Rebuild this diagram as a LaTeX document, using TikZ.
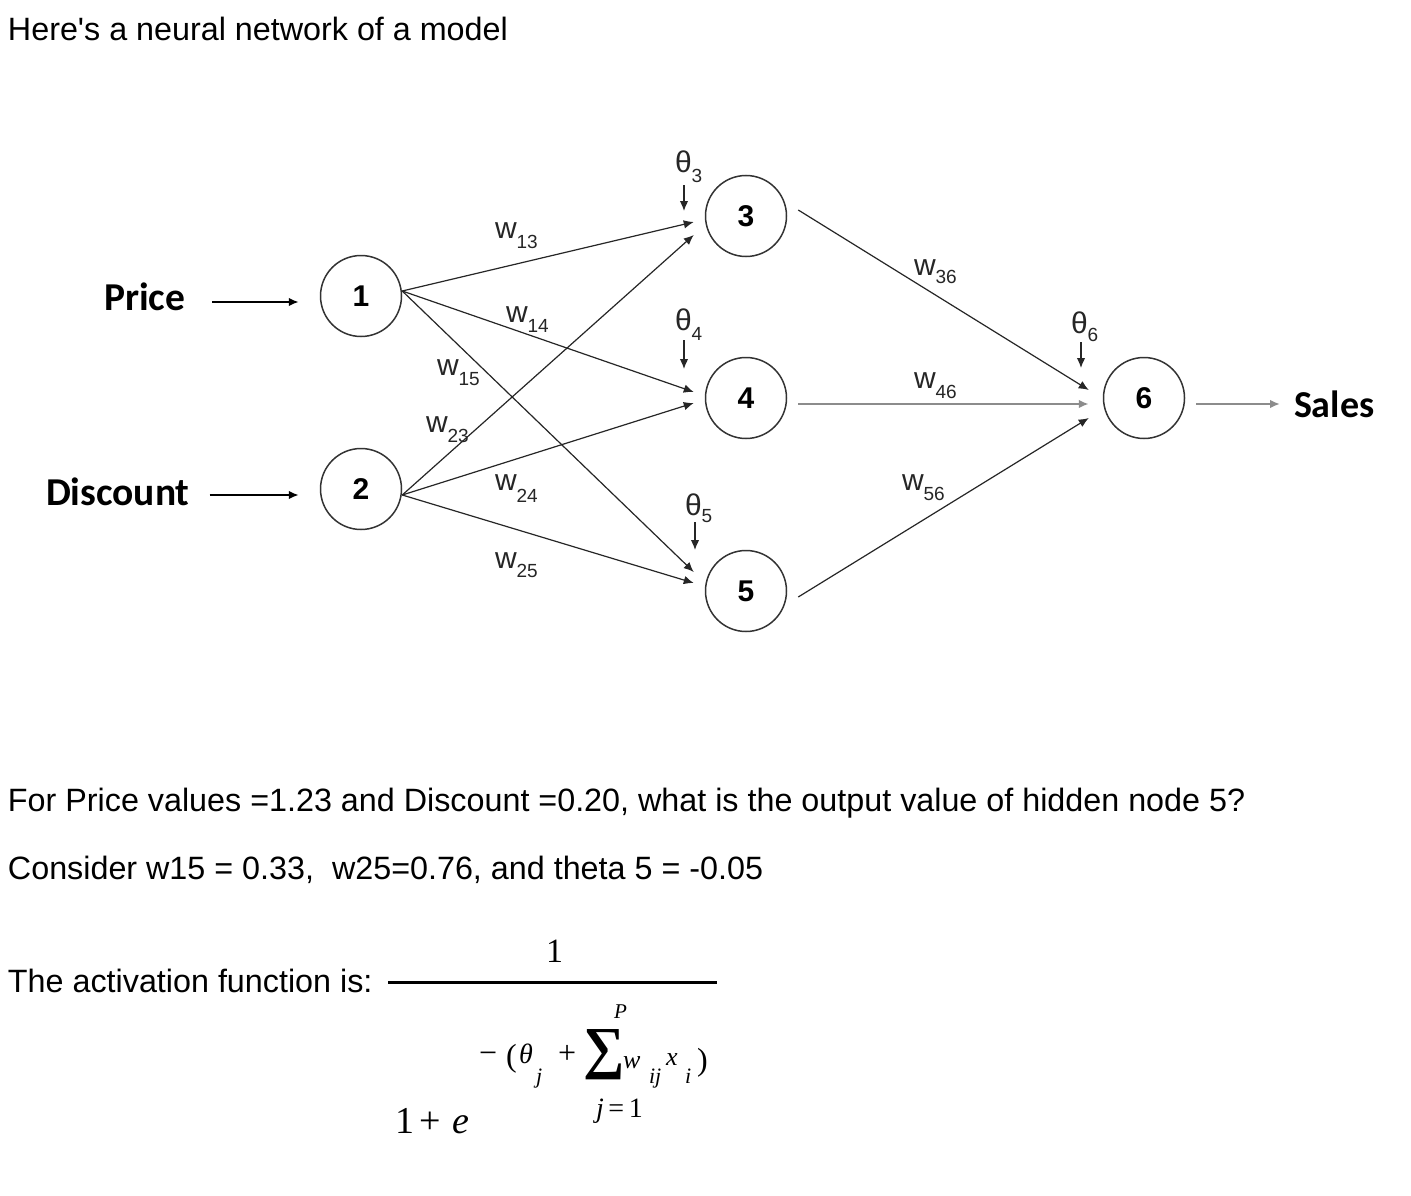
\documentclass[tikz,border=0pt]{standalone}
\usepackage{fontspec}
\setmainfont{Liberation Sans}[Ligatures=TeXOff]
\newfontfamily\calib{Carlito}
\newfontfamily\tms{Liberation Serif}
\usetikzlibrary{arrows.meta}
\newcommand\wsub[2][10pt]{w\raisebox{-#1}{\fontsize{19}{19}\selectfont #2}}
\newcommand\thsub[2][10pt]{θ\raisebox{-#1}{\fontsize{19}{19}\selectfont #2}}
\begin{document}
\begin{tikzpicture}[x=1pt,y=-1pt,
 txt/.style={anchor=base west, inner sep=0pt, outer sep=0pt, font=\fontsize{32.3}{38}\selectfont},
 lab/.style={anchor=base west, inner sep=0pt, outer sep=0pt, font=\calib\bfseries\fontsize{39.5}{44}\selectfont},
 neuron/.style={circle, draw=black!80, line width=1.5pt, minimum size=81pt, inner sep=0pt, font=\bfseries\fontsize{30}{30}\selectfont},
 conn/.style={draw=black!85, line width=1.2pt, -{Latex[length=10pt,width=8.5pt]}},
 grayconn/.style={draw=black!45, line width=2.2pt, -{Latex[length=10pt,width=8.5pt]}},
 inarr/.style={draw=black, line width=1.8pt, -{Latex[length=10pt,width=8.5pt]}},
 wlab/.style={anchor=base west, inner sep=0pt, outer sep=0pt, font=\fontsize{30}{30}\selectfont, text=black!85},
 fm/.style={anchor=base west, inner sep=0pt, outer sep=0pt, font=\tms\fontsize{32}{32}\selectfont},
 fs/.style={anchor=base west, inner sep=0pt, outer sep=0pt, font=\tms\itshape\fontsize{22}{22}\selectfont},
 fb/.style={anchor=base west, inner sep=0pt, outer sep=0pt, font=\tms\fontsize{38}{38}\selectfont}
]
\useasboundingbox (0,0) rectangle (1411,1196);
\fill[white] (0,0) rectangle (1411,1196);

% texts
\node[txt] (title) at (8,41) {Here's a neural network of a model};
\node[txt] (q1) at (8,811) {For Price values =1.23 and Discount =0.20, what is the output value of hidden node 5?};
\node[txt] (q2) at (8,879) {Consider w15 = 0.33, \ w25=0.76, and theta 5 = -0.05};
\node[txt] (q3) at (8,992) {The activation function is:};

% labels
\node[lab] (price) at (104,310) {Price};
\node[lab] (disc) at (46,505) {Discount};
\node[lab, font=\calib\bfseries\fontsize{38}{44}\selectfont] (sales) at (1294,417) {Sales};

% neurons
\node[neuron] (n1) at (361,296) {1};
\node[neuron] (n2) at (361,489) {2};
\node[neuron] (n3) at (746,216) {3};
\node[neuron] (n4) at (746,398) {4};
\node[neuron] (n5) at (746,591) {5};
\node[neuron] (n6) at (1144,398) {6};

% input / output arrows
\draw[inarr] ([xshift=27pt,yshift=8pt]price.base east) -- ([xshift=-21pt,yshift=-6pt]n1.west);
\draw[inarr] ([xshift=20pt,yshift=10pt]disc.base east) -- ([xshift=-21pt,yshift=-6pt]n2.west);
\draw[grayconn] ([xshift=11pt,yshift=-6pt]n6.east) -- ([xshift=-14pt,yshift=13pt]sales.base west);

% input -> hidden
\draw[conn] ([yshift=5pt]n1.east) -- ([xshift=-11pt,yshift=-6pt]n3.west);
\draw[conn] ([yshift=5pt]n1.east) -- ([xshift=-11pt,yshift=6pt]n4.west);
\draw[conn] ([yshift=5pt]n1.east) -- ([xshift=-11pt,yshift=19pt]n5.west);
\draw[conn] ([yshift=-6pt]n2.east) -- ([xshift=-11pt,yshift=-19pt]n3.west);
\draw[conn] ([yshift=-6pt]n2.east) -- ([xshift=-11pt,yshift=-5pt]n4.west);
\draw[conn] ([yshift=-6pt]n2.east) -- ([xshift=-11pt,yshift=8pt]n5.west);

% hidden -> output
\draw[conn] ([xshift=11pt,yshift=6pt]n3.east) -- ([xshift=-14pt,yshift=8pt]n6.west);
\draw[grayconn] ([xshift=11pt,yshift=-6pt]n4.east) -- ([xshift=-14pt,yshift=-6pt]n6.west);
\draw[conn] ([xshift=11pt,yshift=-6pt]n5.east) -- ([xshift=-14pt,yshift=-20pt]n6.west);

% bias arrows
\draw[conn] ([xshift=-62pt,yshift=31pt]n3.center) -- ([xshift=-62pt,yshift=5pt]n3.center);
\draw[conn] ([xshift=-62pt,yshift=58pt]n4.center) -- ([xshift=-62pt,yshift=29pt]n4.center);
\draw[conn] ([xshift=-51pt,yshift=69pt]n5.center) -- ([xshift=-51pt,yshift=41pt]n5.center);
\draw[conn] ([xshift=-63pt,yshift=56pt]n6.center) -- ([xshift=-63pt,yshift=30pt]n6.center);

% bias labels
\node[wlab] (th3) at (675,172) {\thsub{3}};
\node[wlab] (th4) at (675,330) {\thsub{4}};
\node[wlab] (th5) at (685,515) {\thsub[7pt]{5}};
\node[wlab] (th6) at (1071,333) {\thsub[8pt]{6}};

% weight labels
\node[wlab] (w13) at (495,238) {\wsub{13}};
\node[wlab] (w14) at (506,322) {\wsub{14}};
\node[wlab] (w15) at (437,375) {\wsub{15}};
\node[wlab] (w23) at (426,432) {\wsub{23}};
\node[wlab] (w24) at (495,490) {\wsub[12pt]{24}};
\node[wlab] (w25) at (495,568) {\wsub[9pt]{25}};
\node[wlab] (w36) at (914,275) {\wsub[8pt]{36}};
\node[wlab] (w46) at (914,388) {\wsub{46}};
\node[wlab] (w56) at (902,490) {\wsub{56}};

% formula
\node[fb, font=\tms\fontsize{34}{34}\selectfont] (fnum) at (546,962) {1};
\draw[line width=3pt] (388,982) -- (717,982);
\node[fb] (fone) at (395,1133) {1};
\node[fb] (fplusb) at (419,1133) {+};
\node[fb, font=\tms\itshape\fontsize{38}{38}\selectfont] (fe) at (452,1133) {e};
\node[fm] (fminus) at (479,1063) {−};
\node[fm] (flp) at (506,1066) {(};
\node[fm, font=\tms\itshape\fontsize{28}{28}\selectfont] (fth) at (519,1063) {θ};
\node[fs] (fj) at (536,1083) {j};
\node[fm] (fplus) at (558,1063) {+};
\node[fm, font=\tms\bfseries\fontsize{58}{58}\selectfont] (fsum) at (583,1067) {∑};
\node[fs, font=\tms\itshape\fontsize{21}{21}\selectfont] (fP) at (614,1018) {P};
\node[fm, font=\tms\itshape\fontsize{26}{26}\selectfont] (fw) at (623,1068) {w};
\node[fs] (fij) at (649,1083) {ij};
\node[fm, font=\tms\itshape\fontsize{26}{26}\selectfont] (fx) at (666,1065) {x};
\node[fs] (fi) at (685,1083) {i};
\node[fm] (frp) at (697,1070) {)};
\node[fm, font=\tms\fontsize{28}{28}\selectfont] (fj1) at (596,1117) {\textit{j}\,=\,1};
\end{tikzpicture}
\end{document}
